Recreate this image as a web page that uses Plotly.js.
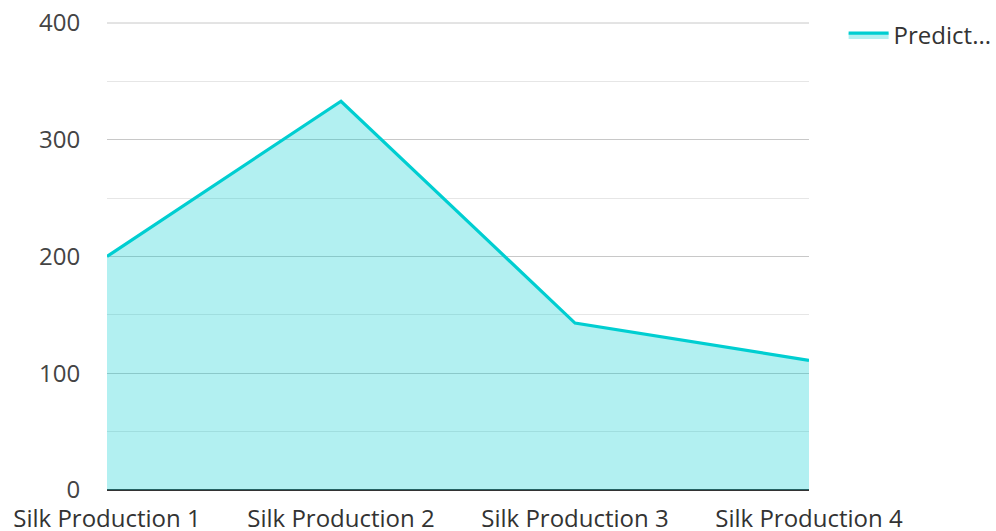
<!DOCTYPE html>
<html>
<head>
<meta charset="utf-8">
<script src="https://cdn.plot.ly/plotly-3.0.1.min.js"></script>
<style>html,body{margin:0;padding:0;background:#fff;overflow:hidden}#chart{width:996px;height:531px}</style>
</head>
<body>
<div id="chart"></div>
<script>
const categories = ["Silk Production 1", "Silk Production 2", "Silk Production 3", "Silk Production 4"];
const predictedValues = [200, 333, 143, 111];
const seriesName = "Predict...";
const yTickVals = [0, 100, 200, 300, 400];

const trace = {
  x: categories,
  y: predictedValues,
  type: 'scatter',
  mode: 'lines',
  name: seriesName,
  fill: 'tozeroy',
  fillcolor: 'rgba(0,206,209,0.3)',
  line: {color: '#00CED1', width: 3.2}
};

const layout = {
  width: 996, height: 531,
  margin: {l: 107, r: 187, t: 23, b: 41},
  paper_bgcolor: '#fff', plot_bgcolor: '#fff',
  font: {family: 'Open Sans, Noto Sans, sans-serif', size: 24, color: '#444'},
  showlegend: true,
  legend: {xref: 'container', yref: 'container', x: 0.847, y: 0.9755, xanchor: 'left', yanchor: 'top',
           font: {size: 24, color: '#333'}, bgcolor: 'rgba(0,0,0,0)', itemwidth: 40},
  xaxis: {
    type: 'category', range: [0, 3], showgrid: false, zeroline: false,
    showline: false, ticks: '', ticklabelstandoff: 12, tickfont: {size: 24, color: '#333'}, automargin: false
  },
  yaxis: {
    range: [0, 400], tickvals: yTickVals, showgrid: true, gridcolor: '#c8c8c8', gridwidth: 1,
    zeroline: true, zerolinecolor: '#333', zerolinewidth: 2,
    minor: {dtick: 50, showgrid: true, gridcolor: '#e6e6e6', gridwidth: 1},
    ticks: 'outside', ticklen: 0, ticklabelstandoff: 21,
    tickfont: {size: 24, color: '#444'}, automargin: false
  },
  shapes: [{type: 'line', xref: 'paper', yref: 'paper', x0: 0, x1: 1, y0: 1, y1: 1, line: {color: '#c8c8c8', width: 1}, layer: 'below'}]
};

Plotly.newPlot('chart', [trace], layout, {displayModeBar: false, staticPlot: true});
</script>
</body>
</html>
